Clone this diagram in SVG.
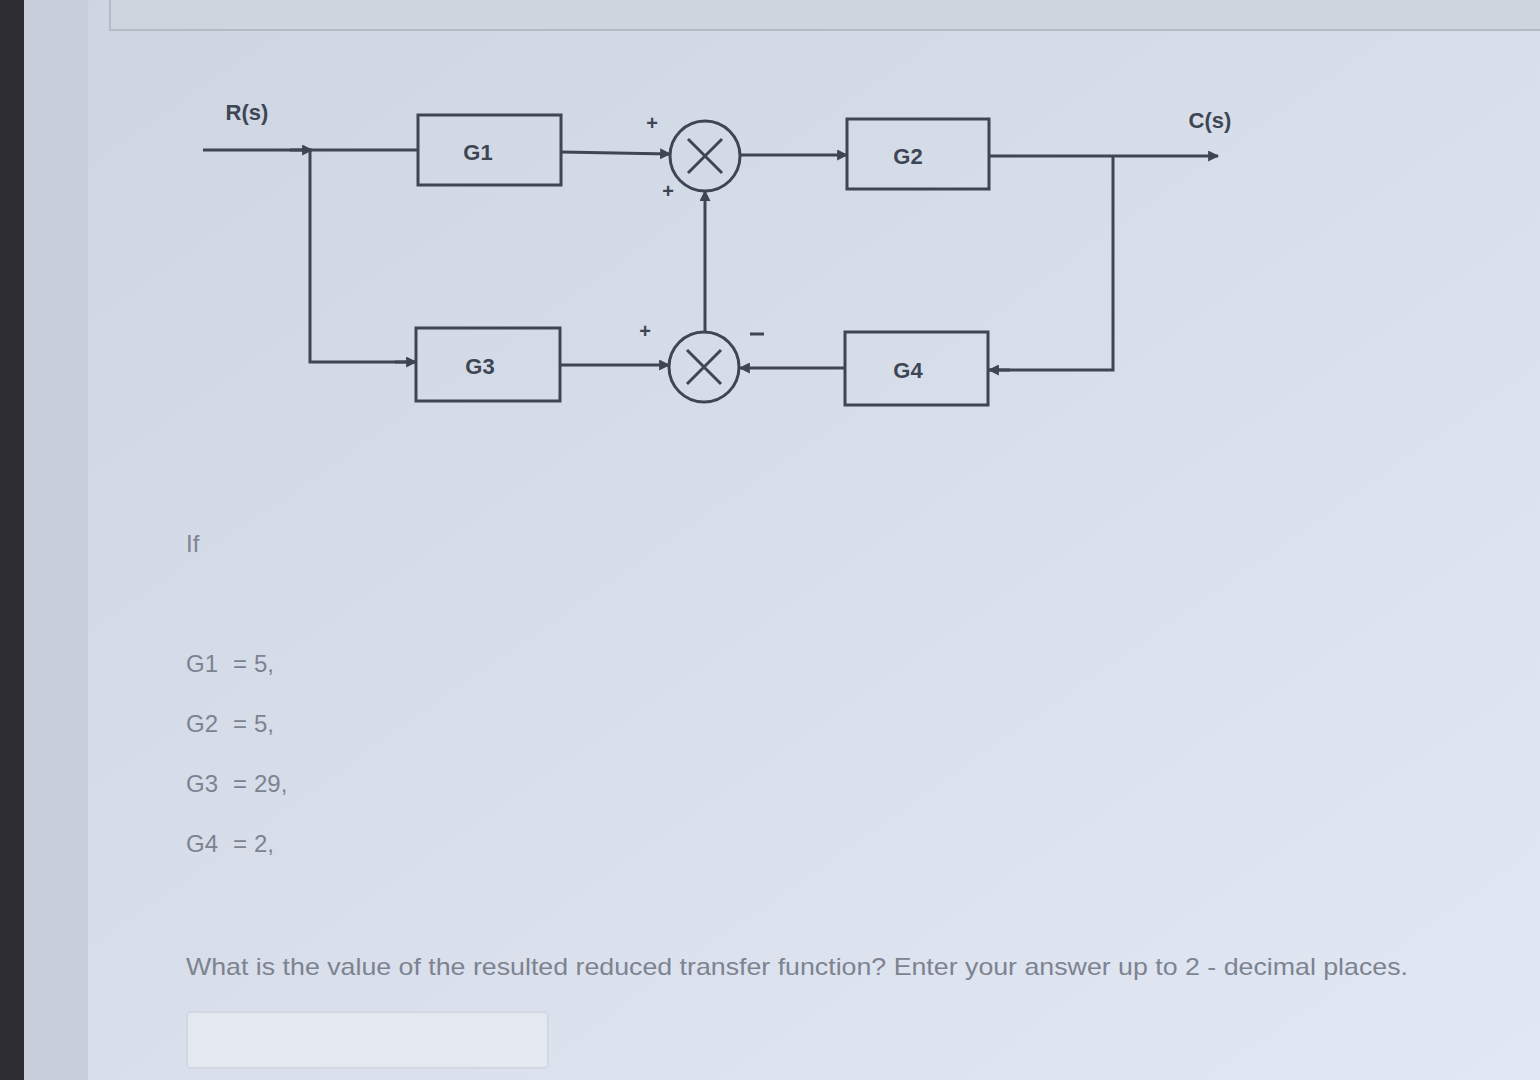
<svg xmlns="http://www.w3.org/2000/svg" width="1540" height="1080" viewBox="0 0 1540 1080">
<defs>
<linearGradient id="bg" x1="0" y1="0" x2="1" y2="1">
<stop offset="0" stop-color="#cdd5e2"/><stop offset="1" stop-color="#e2e8f3"/>
</linearGradient>
<marker id="ar" viewBox="0 0 10 10" refX="9" refY="5" markerWidth="13" markerHeight="11" orient="auto" markerUnits="userSpaceOnUse"><path d="M0,0 L10,5 L0,10 z" fill="#3e4654"/></marker>
</defs>
<style>
.box{fill:none;stroke:#3e4654;stroke-width:3}
.ln{fill:none;stroke:#3e4654;stroke-width:3}
.bl{font-family:"Liberation Sans",Arial,sans-serif;font-weight:bold;font-size:22px;fill:#3e4654;text-anchor:middle}
.sg{font-family:"Liberation Sans",Arial,sans-serif;font-weight:bold;font-size:20px;fill:#3e4654;text-anchor:middle}
.tx{font-family:"Liberation Sans",Arial,sans-serif;font-size:24px;fill:#7d8390}
</style>
<rect width="1540" height="1080" fill="url(#bg)"/>
<rect x="0" y="0" width="24" height="1080" fill="#2c2c32"/>
<rect x="24" y="0" width="64" height="1080" fill="#c9d0dc"/>
<rect x="110" y="-2" width="1440" height="32" fill="#cfd5df" stroke="#b4bac6" stroke-width="2"/>
<g id="connectors">
<line class="ln" x1="203" y1="150" x2="418" y2="150"/>
<line class="ln" x1="290" y1="150" x2="312" y2="150" marker-end="url(#ar)"/>
<polyline class="ln" points="310,150 310,362 416,362"/>
<line class="ln" x1="395" y1="362" x2="416" y2="362" marker-end="url(#ar)"/>
<line class="ln" x1="561" y1="152" x2="670" y2="154" marker-end="url(#ar)"/>
<line class="ln" x1="740" y1="155" x2="847" y2="155" marker-end="url(#ar)"/>
<line class="ln" x1="989" y1="156" x2="1218" y2="156" marker-end="url(#ar)"/>
<polyline class="ln" points="1113,156 1113,370 989,370"/>
<line class="ln" x1="1010" y1="370" x2="989" y2="370" marker-end="url(#ar)"/>
<line class="ln" x1="845" y1="368" x2="740" y2="368" marker-end="url(#ar)"/>
<line class="ln" x1="560" y1="365" x2="669" y2="365" marker-end="url(#ar)"/>
<line class="ln" x1="705" y1="332" x2="705" y2="191" marker-end="url(#ar)"/>
</g>
<g id="R"><text class="bl" x="247" y="120">R(s)</text></g>
<g id="C"><text class="bl" x="1210" y="128">C(s)</text></g>
<g id="G1"><rect class="box" x="418" y="115" width="143" height="70"/><text class="bl" x="478" y="160">G1</text></g>
<g id="G2"><rect class="box" x="847" y="119" width="142" height="70"/><text class="bl" x="908" y="164">G2</text></g>
<g id="G3"><rect class="box" x="416" y="328" width="144" height="73"/><text class="bl" x="480" y="374">G3</text></g>
<g id="G4"><rect class="box" x="845" y="332" width="143" height="73"/><text class="bl" x="908" y="378">G4</text></g>
<g id="S1"><circle class="box" cx="705" cy="156" r="35"/><path class="ln" d="M688,139 L722,173 M722,139 L688,173"/>
<text class="sg" x="652" y="130">+</text><text class="sg" x="668" y="198">+</text></g>
<g id="S2"><circle class="box" cx="704" cy="367" r="35"/><path class="ln" d="M687,350 L721,384 M721,350 L687,384"/>
<text class="sg" x="645" y="338">+</text><line class="ln" x1="750" y1="334" x2="764" y2="334"/></g>
<text class="tx" x="186" y="552" fill="#8a909b">If</text>
<g class="tx"><text class="tx" x="186" y="672">G1</text><text class="tx" x="233" y="672">=</text><text class="tx" x="254" y="672">5,</text>
<text class="tx" x="186" y="732">G2</text><text class="tx" x="233" y="732">=</text><text class="tx" x="254" y="732">5,</text>
<text class="tx" x="186" y="792">G3</text><text class="tx" x="233" y="792">=</text><text class="tx" x="254" y="792">29,</text>
<text class="tx" x="186" y="852">G4</text><text class="tx" x="233" y="852">=</text><text class="tx" x="254" y="852">2,</text></g>
<text class="tx" x="186" y="975" fill="#5c6270" textLength="1222" lengthAdjust="spacingAndGlyphs">What is the value of the resulted reduced transfer function? Enter your answer up to 2 - decimal places.</text>
<rect x="187" y="1012" width="361" height="56" rx="4" fill="#e3e8f1" stroke="#d2d8e2" stroke-width="2"/>
</svg>
